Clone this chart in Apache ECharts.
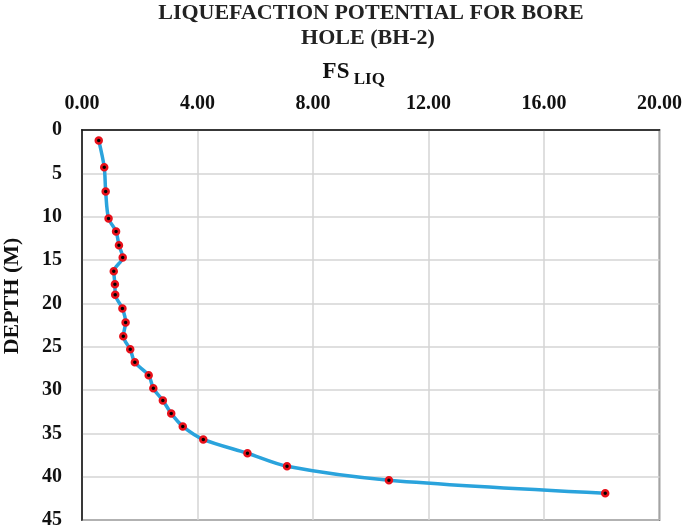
<!DOCTYPE html>
<html>
<head>
<meta charset="utf-8">
<script src="https://cdn.jsdelivr.net/npm/echarts@6/dist/echarts.min.js"></script>
<style>
  html, body { margin: 0; padding: 0; background: #fff; }
  #chart { width: 685px; height: 530px; }
</style>
</head>
<body>
<div id="chart"></div>
<script>
// depth (m) and factor of safety
var depth = [1.2, 4.3, 7.1, 10.2, 11.7, 13.3, 14.7, 16.3, 17.8, 19.0, 20.6, 22.2, 23.8,
  25.3, 26.8, 28.3, 29.8, 31.2, 32.7, 34.2, 35.7, 37.3, 38.8, 40.4, 41.9];
var fsLiq = [0.58, 0.77, 0.82, 0.92, 1.18, 1.28, 1.41, 1.10, 1.14, 1.15, 1.40, 1.51, 1.43,
  1.67, 1.83, 2.31, 2.47, 2.80, 3.09, 3.49, 4.20, 5.73, 7.10, 10.63, 18.12];

var serif = '"Liberation Serif", "DejaVu Serif", serif';

var chart = echarts.init(document.getElementById('chart'));

var pts = [];
for (var i = 0; i < depth.length; i++) {
  pts.push([fsLiq[i], depth[i]]);
}

var option = {
  animation: false,
  graphic: [
    {
      type: 'text', x: 371, y: 13,
      style: {
        text: 'LIQUEFACTION POTENTIAL FOR BORE', textAlign: 'center', textVerticalAlign: 'middle',
        font: 'bold 22px ' + serif, fill: '#222'
      }
    },
    {
      type: 'text', x: 368, y: 38,
      style: {
        text: 'HOLE (BH-2)', textAlign: 'center', textVerticalAlign: 'middle',
        font: 'bold 22px ' + serif, fill: '#222'
      }
    },
    {
      type: 'text', x: 12, y: 296,
      rotation: Math.PI / 2,
      style: {
        text: 'DEPTH (M)', textAlign: 'center', textVerticalAlign: 'middle',
        font: 'bold 22px ' + serif, fill: '#111'
      }
    }
  ],
  grid: {
    left: 82, top: 130, width: 578, height: 390,
    show: true, borderColor: '#111', borderWidth: 1.5
  },
  xAxis: {
    type: 'value', position: 'top',
    min: 0, max: 20, interval: 4,
    name: '{a|FS}{b| LIQ}',
    nameLocation: 'middle', nameGap: 42,
    nameTextStyle: {
      padding: [0, 34, 0, 0],
      rich: {
        a: { fontFamily: serif, fontWeight: 'bold', fontSize: 23, color: '#111' },
        b: { fontFamily: serif, fontWeight: 'bold', fontSize: 17, color: '#111', padding: [14, 0, 0, 0] }
      }
    },
    axisLine: { show: true, lineStyle: { color: '#111', width: 1.5 } },
    axisTick: { show: false },
    axisLabel: {
      margin: 16,
      fontFamily: serif, fontWeight: 'bold', fontSize: 20, color: '#111',
      formatter: function (v) { return v.toFixed(2); }
    },
    splitLine: { lineStyle: { color: '#d4d4d4', width: 1.5 } }
  },
  yAxis: {
    type: 'value', inverse: true,
    min: 0, max: 45, interval: 5,
    axisLine: { show: true, lineStyle: { color: '#111', width: 1.5 } },
    axisTick: { show: false },
    axisLabel: {
      margin: 20,
      fontFamily: serif, fontWeight: 'bold', fontSize: 20, color: '#111'
    },
    splitLine: { lineStyle: { color: '#d4d4d4', width: 1.5 } }
  },
  series: [{
    type: 'line',
    data: pts,
    smooth: 0.3,
    symbol: 'circle',
    symbolSize: 6,
    lineStyle: { color: '#2aa3dc', width: 3.5 },
    itemStyle: { color: '#000', borderColor: '#e8101a', borderWidth: 2.5 },
    z: 3
  }]
};

chart.setOption(option);
</script>
</body>
</html>
